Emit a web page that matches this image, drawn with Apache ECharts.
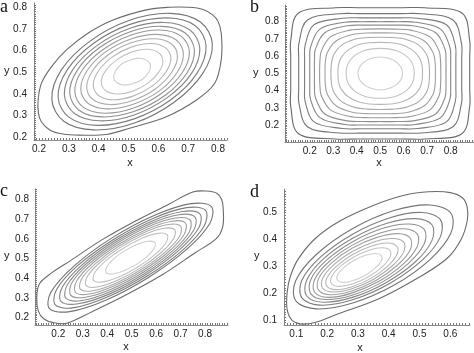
<!DOCTYPE html>
<html>
<head>
<meta charset="utf-8">
<script src="https://cdn.jsdelivr.net/npm/echarts@6/dist/echarts.min.js"></script>
<style>
html, body { margin: 0; padding: 0; background: #fff; }
#chart { width: 474px; height: 353px; }
</style>
</head>
<body>
<div id="chart"></div>
<script>
// tick labels of each panel
var ticksAX = [0.2, 0.3, 0.4, 0.5, 0.6, 0.7, 0.8];
var ticksAY = [0.2, 0.3, 0.4, 0.5, 0.6, 0.7, 0.8];
var ticksBX = [0.2, 0.3, 0.4, 0.5, 0.6, 0.7, 0.8];
var ticksBY = [0.2, 0.3, 0.4, 0.5, 0.6, 0.7, 0.8];
var ticksCX = [0.2, 0.3, 0.4, 0.5, 0.6, 0.7, 0.8];
var ticksCY = [0.2, 0.3, 0.4, 0.5, 0.6, 0.7, 0.8];
var ticksDX = [0.1, 0.2, 0.3, 0.4, 0.5, 0.6];
var ticksDY = [0.1, 0.2, 0.3, 0.4, 0.5];

// contour lines, outermost first
var contoursA = [
  [[0.811,0.56],[0.811,0.68],[0.80,0.735],[0.783,0.764],[0.75,0.79],[0.70,0.80],[0.638,0.80],[0.560,0.788],[0.448,0.741],[0.364,0.680],[0.292,0.603],[0.242,0.526],[0.208,0.449],[0.197,0.372],[0.198,0.313],[0.208,0.272],[0.236,0.234],[0.28,0.215],[0.336,0.21],[0.426,0.213],[0.504,0.242],[0.627,0.295],[0.728,0.372],[0.789,0.449]],
  [[0.741,0.732],[0.640,0.772],[0.504,0.740],[0.371,0.644],[0.275,0.511],[0.243,0.375],[0.283,0.274],[0.384,0.234],[0.520,0.266],[0.653,0.362],[0.749,0.495],[0.781,0.631]],
  [[0.724,0.715],[0.630,0.751],[0.505,0.721],[0.382,0.633],[0.294,0.510],[0.264,0.385],[0.301,0.292],[0.394,0.255],[0.519,0.285],[0.642,0.373],[0.730,0.496],[0.760,0.621]],
  [[0.705,0.696],[0.620,0.730],[0.505,0.703],[0.393,0.622],[0.312,0.510],[0.285,0.395],[0.319,0.310],[0.404,0.276],[0.519,0.303],[0.631,0.384],[0.712,0.496],[0.739,0.611]],
  [[0.690,0.681],[0.611,0.712],[0.506,0.687],[0.402,0.613],[0.328,0.509],[0.303,0.404],[0.334,0.325],[0.413,0.294],[0.518,0.319],[0.622,0.393],[0.696,0.497],[0.721,0.602]],
  [[0.676,0.667],[0.604,0.695],[0.507,0.671],[0.4125,0.6025],[0.344,0.508],[0.320,0.411],[0.348,0.339],[0.420,0.311],[0.517,0.335],[0.6115,0.4035],[0.680,0.498],[0.704,0.595]],
  [[0.659,0.650],[0.594,0.675],[0.508,0.654],[0.422,0.593],[0.361,0.507],[0.340,0.421],[0.365,0.356],[0.430,0.331],[0.516,0.352],[0.602,0.413],[0.663,0.499],[0.684,0.585]],
  [[0.642,0.633],[0.585,0.655],[0.509,0.636],[0.433,0.582],[0.379,0.506],[0.360,0.430],[0.382,0.373],[0.439,0.351],[0.515,0.370],[0.591,0.424],[0.645,0.500],[0.664,0.576]],
  [[0.623,0.614],[0.575,0.633],[0.509,0.616],[0.445,0.570],[0.399,0.506],[0.382,0.440],[0.401,0.392],[0.449,0.373],[0.515,0.390],[0.579,0.436],[0.625,0.500],[0.642,0.566]],
  [[0.600,0.591],[0.561,0.606],[0.5095,0.593],[0.459,0.556],[0.422,0.5055],[0.409,0.454],[0.424,0.415],[0.463,0.400],[0.5145,0.413],[0.565,0.450],[0.602,0.5005],[0.615,0.552]],
  [[0.563,0.554],[0.539,0.565],[0.508,0.558],[0.477,0.538],[0.457,0.507],[0.450,0.476],[0.461,0.452],[0.485,0.441],[0.516,0.448],[0.547,0.468],[0.567,0.499],[0.574,0.530]]
];

var contoursB = [
  [[.881,.5],[.881,.595],[.881,.69],[.849,.849],[.69,.881],[.595,.881],[.5,.881],[.405,.881],[.31,.881],[.151,.849],[.119,.69],[.119,.595],[.119,.5],[.119,.405],[.119,.31],[.151,.151],[.31,.119],[.405,.119],[.5,.119],[.595,.119],[.69,.119],[.849,.151],[.881,.31],[.881,.405]],
  [[.847,.5],[.847,.587],[.846,.674],[.81,.81],[.674,.846],[.587,.847],[.5,.847],[.413,.847],[.326,.846],[.19,.81],[.154,.674],[.153,.587],[.153,.5],[.153,.413],[.154,.326],[.19,.19],[.326,.154],[.413,.153],[.5,.153],[.587,.153],[.674,.154],[.81,.19],[.846,.326],[.847,.413]],
  [[.822,.5],[.822,.581],[.82,.661],[.782,.782],[.661,.82],[.581,.822],[.5,.822],[.419,.822],[.339,.82],[.218,.782],[.18,.661],[.178,.581],[.178,.5],[.178,.419],[.18,.339],[.218,.218],[.339,.18],[.419,.178],[.5,.178],[.581,.178],[.661,.18],[.782,.218],[.82,.339],[.822,.419]],
  [[.8,.5],[.8,.575],[.797,.65],[.757,.757],[.65,.797],[.575,.8],[.5,.8],[.425,.8],[.35,.797],[.243,.757],[.203,.65],[.2,.575],[.2,.5],[.2,.425],[.203,.35],[.243,.243],[.35,.203],[.425,.2],[.5,.2],[.575,.2],[.65,.203],[.757,.243],[.797,.35],[.8,.425]],
  [[.78,.5],[.78,.57],[.776,.64],[.736,.736],[.64,.776],[.57,.78],[.5,.78],[.43,.78],[.36,.776],[.264,.736],[.224,.64],[.22,.57],[.22,.5],[.22,.43],[.224,.36],[.264,.264],[.36,.224],[.43,.22],[.5,.22],[.57,.22],[.64,.224],[.736,.264],[.776,.36],[.78,.43]],
  [[.758,.5],[.757,.565],[.751,.629],[.712,.712],[.629,.751],[.565,.757],[.5,.758],[.435,.757],[.371,.751],[.288,.712],[.249,.629],[.243,.565],[.242,.5],[.243,.435],[.249,.371],[.288,.288],[.371,.249],[.435,.243],[.5,.242],[.565,.243],[.629,.249],[.712,.288],[.751,.371],[.757,.435]],
  [[.735,.5],[.734,.559],[.726,.618],[.688,.688],[.618,.726],[.559,.734],[.5,.735],[.441,.734],[.382,.726],[.312,.688],[.274,.618],[.266,.559],[.265,.5],[.266,.441],[.274,.382],[.312,.312],[.382,.274],[.441,.266],[.5,.265],[.559,.266],[.618,.274],[.688,.312],[.726,.382],[.734,.441]],
  [[.71,.5],[.708,.553],[.699,.605],[.664,.664],[.605,.699],[.553,.708],[.5,.71],[.447,.708],[.395,.699],[.336,.664],[.301,.605],[.292,.553],[.29,.5],[.292,.447],[.301,.395],[.336,.336],[.395,.301],[.447,.292],[.5,.29],[.553,.292],[.605,.301],[.664,.336],[.699,.395],[.708,.447]],
  [[.68,.5],[.678,.545],[.667,.59],[.636,.636],[.59,.667],[.545,.678],[.5,.68],[.455,.678],[.41,.667],[.364,.636],[.333,.59],[.322,.545],[.32,.5],[.322,.455],[.333,.41],[.364,.364],[.41,.333],[.455,.322],[.5,.32],[.545,.322],[.59,.333],[.636,.364],[.667,.41],[.678,.455]],
  [[.645,.5],[.642,.536],[.63,.573],[.606,.606],[.573,.63],[.536,.642],[.5,.645],[.464,.642],[.427,.63],[.394,.606],[.37,.573],[.358,.536],[.355,.5],[.358,.464],[.37,.427],[.394,.394],[.427,.37],[.464,.358],[.5,.355],[.536,.358],[.573,.37],[.606,.394],[.63,.427],[.642,.464]],
  [[.595,.5],[.592,.524],[.582,.548],[.567,.567],[.548,.582],[.524,.592],[.5,.595],[.476,.592],[.452,.582],[.433,.567],[.418,.548],[.408,.524],[.405,.5],[.408,.476],[.418,.452],[.433,.433],[.452,.418],[.476,.408],[.5,.405],[.524,.408],[.548,.418],[.567,.433],[.582,.452],[.592,.476]]
];

var contoursC = [
  [[0.872,0.66],[0.875,0.74],[0.868,0.80],[0.848,0.832],[0.805,0.843],[0.75,0.838],[0.65,0.775],[0.514,0.69],[0.378,0.595],[0.25,0.49],[0.17,0.425],[0.122,0.37],[0.112,0.30],[0.118,0.235],[0.14,0.195],[0.18,0.175],[0.235,0.172],[0.34,0.232],[0.48,0.318],[0.625,0.418],[0.76,0.53],[0.845,0.60]],
  [[0.826,0.764],[0.743,0.779],[0.594,0.720],[0.418,0.604],[0.263,0.461],[0.170,0.330],[0.164,0.246],[0.247,0.231],[0.396,0.290],[0.572,0.407],[0.727,0.549],[0.820,0.680]],
  [[0.802,0.745],[0.725,0.759],[0.587,0.704],[0.424,0.596],[0.279,0.464],[0.193,0.343],[0.188,0.265],[0.265,0.251],[0.403,0.306],[0.567,0.414],[0.711,0.546],[0.797,0.667]],
  [[0.779,0.727],[0.708,0.739],[0.580,0.689],[0.429,0.589],[0.296,0.467],[0.216,0.355],[0.211,0.283],[0.282,0.271],[0.410,0.321],[0.561,0.421],[0.694,0.543],[0.774,0.655]],
  [[0.759,0.711],[0.693,0.723],[0.574,0.676],[0.434,0.583],[0.310,0.469],[0.236,0.365],[0.231,0.299],[0.297,0.287],[0.416,0.334],[0.556,0.427],[0.680,0.541],[0.754,0.645]],
  [[0.739,0.696],[0.679,0.706],[0.569,0.663],[0.439,0.577],[0.324,0.472],[0.255,0.376],[0.251,0.314],[0.311,0.304],[0.421,0.347],[0.551,0.433],[0.666,0.538],[0.735,0.634]],
  [[0.720,0.681],[0.664,0.690],[0.563,0.649],[0.444,0.570],[0.338,0.474],[0.275,0.386],[0.270,0.329],[0.326,0.320],[0.427,0.361],[0.546,0.440],[0.652,0.536],[0.715,0.624]],
  [[0.700,0.665],[0.649,0.673],[0.558,0.636],[0.449,0.564],[0.353,0.476],[0.295,0.396],[0.290,0.345],[0.341,0.337],[0.433,0.374],[0.541,0.446],[0.638,0.534],[0.696,0.614]],
  [[0.676,0.647],[0.632,0.654],[0.550,0.621],[0.454,0.557],[0.369,0.479],[0.318,0.408],[0.314,0.363],[0.359,0.356],[0.440,0.389],[0.536,0.453],[0.621,0.531],[0.672,0.602]],
  [[0.645,0.622],[0.607,0.628],[0.540,0.602],[0.461,0.549],[0.390,0.485],[0.348,0.426],[0.345,0.388],[0.383,0.382],[0.450,0.408],[0.530,0.461],[0.600,0.525],[0.642,0.584]],
  [[0.594,0.582],[0.567,0.588],[0.522,0.572],[0.469,0.538],[0.423,0.495],[0.397,0.455],[0.397,0.428],[0.423,0.422],[0.468,0.438],[0.521,0.472],[0.567,0.515],[0.593,0.555]]
];

var contoursD = [
  [[0.655,0.47],[0.655,0.52],[0.64,0.555],[0.60,0.575],[0.53,0.578],[0.45,0.565],[0.35,0.527],[0.24,0.468],[0.16,0.402],[0.105,0.325],[0.08,0.26],[0.07,0.20],[0.07,0.14],[0.085,0.10],[0.115,0.085],[0.16,0.09],[0.23,0.12],[0.37,0.18],[0.50,0.26],[0.59,0.33],[0.635,0.40]],
  [[0.602,0.498],[0.534,0.529],[0.417,0.508],[0.282,0.440],[0.165,0.344],[0.098,0.246],[0.098,0.172],[0.166,0.141],[0.283,0.163],[0.418,0.230],[0.535,0.326],[0.602,0.424]],
  [[0.568,0.474],[0.508,0.501],[0.404,0.481],[0.283,0.420],[0.179,0.335],[0.118,0.248],[0.118,0.182],[0.178,0.155],[0.283,0.175],[0.403,0.236],[0.507,0.321],[0.567,0.408]],
  [[0.541,0.454],[0.487,0.478],[0.392,0.460],[0.283,0.405],[0.188,0.328],[0.134,0.249],[0.133,0.190],[0.187,0.166],[0.282,0.184],[0.391,0.239],[0.486,0.316],[0.540,0.395]],
  [[0.516,0.437],[0.467,0.458],[0.381,0.442],[0.283,0.392],[0.197,0.322],[0.147,0.251],[0.147,0.197],[0.195,0.176],[0.281,0.192],[0.380,0.242],[0.465,0.312],[0.515,0.383]],
  [[0.493,0.420],[0.449,0.440],[0.372,0.424],[0.282,0.379],[0.205,0.316],[0.160,0.252],[0.159,0.204],[0.203,0.184],[0.280,0.200],[0.370,0.245],[0.447,0.308],[0.492,0.372]],
  [[0.470,0.405],[0.431,0.422],[0.362,0.408],[0.282,0.368],[0.213,0.311],[0.172,0.254],[0.172,0.211],[0.211,0.194],[0.280,0.208],[0.360,0.248],[0.429,0.305],[0.470,0.362]],
  [[0.449,0.390],[0.414,0.404],[0.354,0.392],[0.283,0.356],[0.222,0.306],[0.186,0.256],[0.185,0.219],[0.220,0.204],[0.280,0.216],[0.351,0.252],[0.412,0.302],[0.448,0.352]],
  [[0.427,0.374],[0.397,0.387],[0.345,0.376],[0.284,0.345],[0.231,0.301],[0.200,0.258],[0.199,0.226],[0.229,0.213],[0.281,0.224],[0.342,0.255],[0.395,0.299],[0.426,0.342]],
  [[0.404,0.359],[0.379,0.369],[0.336,0.360],[0.285,0.334],[0.241,0.298],[0.215,0.262],[0.214,0.236],[0.239,0.225],[0.282,0.234],[0.333,0.260],[0.377,0.296],[0.403,0.332]],
  [[0.376,0.340],[0.358,0.348],[0.325,0.341],[0.287,0.322],[0.254,0.295],[0.234,0.268],[0.234,0.248],[0.252,0.240],[0.285,0.247],[0.323,0.266],[0.356,0.293],[0.376,0.320]]
];

// grey of each level, outermost (lowest) darkest
var levelColors = ['#6b6b6b','#747474','#7d7d7d','#868686','#8f8f8f','#989898','#a2a2a2','#acacac','#b7b7b7','#c3c3c3','#cfcfcf'];

var chart = echarts.init(document.getElementById('chart'));

var panels = [
  { lines: contoursA, xt: ticksAX, yt: ticksAY, grid: { left: 34, top: 3, width: 193, height: 137 }, x: [0.1832, 0.8302], y: [0.1875, 0.8197], ym: 7,
    letter: ['a', 0, 7], xName: [130, 163], yName: [4, 71] },
  { lines: contoursB, xt: ticksBX, yt: ticksBY, grid: { left: 285, top: 5, width: 189, height: 137 }, x: [0.0946, 0.8993], y: [0.1013, 0.8969], ym: 6,
    letter: ['b', 250, 7], xName: [379, 163], yName: [253, 73] },
  { lines: contoursC, xt: ticksCX, yt: ticksCY, grid: { left: 35, top: 189, width: 193, height: 136 }, x: [0.1047, 0.894], y: [0.163, 0.8534], ym: 6,
    letter: ['c', 0, 191], xName: [126, 347], yName: [4, 256] },
  { lines: contoursD, xt: ticksDX, yt: ticksDY, grid: { left: 284, top: 189, width: 186, height: 136 }, x: [0.060, 0.664], y: [0.081, 0.5885], ym: 7,
    letter: ['d', 250, 192], xName: [360, 348], yName: [254, 256] }
];

// small ticks every 0.01 along the frame
function minorTicks(range) {
  var out = [];
  for (var i = Math.ceil(range[0] * 100); i <= Math.floor(range[1] * 100); i++) {
    out.push(i / 100);
  }
  return out;
}

var labelFont = 'Liberation Sans';
var grids = [], xAxes = [], yAxes = [], series = [], graphics = [];

panels.forEach(function (p, idx) {
  grids.push(p.grid);
  xAxes.push({
    type: 'value', gridIndex: idx, min: p.x[0], max: p.x[1],
    axisLine: { show: true, onZero: false, lineStyle: { color: '#8a8a8a', width: 1 } },
    axisTick: { show: true, inside: true, length: 2, customValues: minorTicks(p.x), lineStyle: { color: '#777' } },
    axisLabel: { customValues: p.xt, margin: 4, fontSize: 10, fontFamily: labelFont, color: '#222',
      formatter: function (v) { return v.toFixed(1); } },
    splitLine: { show: false }
  });
  yAxes.push({
    type: 'value', gridIndex: idx, min: p.y[0], max: p.y[1],
    axisLine: { show: true, onZero: false, lineStyle: { color: '#8a8a8a', width: 1 } },
    axisTick: { show: true, inside: true, length: 2, customValues: minorTicks(p.y), lineStyle: { color: '#777' } },
    axisLabel: { customValues: p.yt, margin: p.ym, fontSize: 10, fontFamily: labelFont, color: '#222',
      formatter: function (v) { return v.toFixed(1); } },
    splitLine: { show: false }
  });
  // one closed smooth curve per contour, placed through the panel's axes
  series.push({
    type: 'custom', xAxisIndex: idx, yAxisIndex: idx, silent: true, clip: false,
    data: p.lines.map(function (c) { return c[0]; }),
    renderItem: function (params, api) {
      var pts = p.lines[params.dataIndex].map(function (q) { return api.coord(q); });
      return {
        type: 'polygon',
        shape: { points: pts, smooth: 0.35 },
        style: { fill: 'none', stroke: levelColors[params.dataIndex], lineWidth: 1.1 }
      };
    }
  });
  graphics.push({ type: 'text', x: p.letter[1], y: p.letter[2],
    style: { text: p.letter[0], font: '18px "Liberation Serif"', fill: '#111', align: 'left', verticalAlign: 'middle' } });
  graphics.push({ type: 'text', x: p.xName[0], y: p.xName[1],
    style: { text: 'x', font: '11px "Liberation Sans"', fill: '#222', align: 'center', verticalAlign: 'middle' } });
  graphics.push({ type: 'text', x: p.yName[0], y: p.yName[1],
    style: { text: 'y', font: '11px "Liberation Sans"', fill: '#222', align: 'left', verticalAlign: 'middle' } });
});

chart.setOption({
  animation: false,
  backgroundColor: '#fff',
  grid: grids,
  xAxis: xAxes,
  yAxis: yAxes,
  series: series,
  graphic: graphics
});
</script>
</body>
</html>
